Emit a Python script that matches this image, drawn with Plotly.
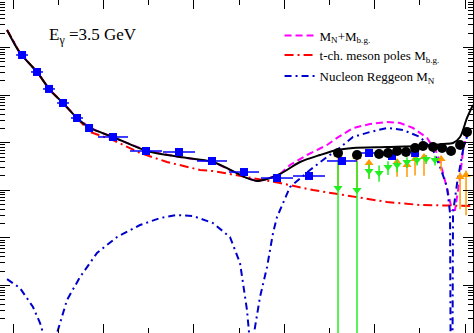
import plotly.graph_objects as go

# ---------------- data (x: kinematic variable, y: cross section, log) -------------
full_x = [-0.066, 0.077, 0.265, 0.409, 0.553, 0.708, 0.852, 1.106, 1.482, 1.847, 2.212,
          2.588, 2.699, 2.810, 2.954, 3.175, 3.396, 3.584, 3.761, 4.137, 4.502, 4.757,
          4.867, 4.945, 5.022, 5.088]
full_y = [234, 76.9, 30.7, 12.8, 6.84, 3.31, 2.04, 1.32, 0.670, 0.501, 0.393,
          0.181, 0.157, 0.173, 0.220, 0.393, 0.552, 0.703, 0.774, 0.812, 0.853, 0.939,
          0.986, 1.32, 3.31, 6.21]

sum_x = [-0.066, 0.077, 0.265, 0.409, 0.553, 0.708, 0.852, 1.106, 1.482, 1.847, 2.212,
         2.588, 2.699, 2.810, 2.954, 3.064, 3.252, 3.473, 3.584, 3.761, 3.949, 4.137,
         4.281, 4.425, 4.580, 4.690, 4.757, 4.812, 4.856, 4.889, 4.912, 4.945, 4.978, 5.022]
sum_y = [234, 76.9, 30.7, 12.8, 6.84, 3.31, 2.04, 1.32, 0.670, 0.501, 0.393,
         0.181, 0.157, 0.173, 0.220, 0.340, 0.552, 0.895, 1.26, 2.04, 2.47, 2.73,
         2.60, 2.04, 1.26, 0.608, 0.231, 0.0877, 0.0385, 0.0385, 0.0722, 0.190, 0.703, 1.60]

bg_x = [-0.066, 0.077, 0.265, 0.409, 0.553, 0.708, 0.852, 1.106, 1.405, 1.704, 2.069,
        2.212, 2.588, 2.954, 3.319, 3.584, 3.761, 4.137, 4.502, 4.867, 5.088]
bg_y = [234, 76.9, 30.7, 12.8, 6.84, 3.31, 1.68, 1.14, 0.608, 0.393, 0.267,
        0.254, 0.190, 0.142, 0.101, 0.0835, 0.0722, 0.0567, 0.0491, 0.0468, 0.0468]

regge_x = [-0.066, 0.077, 0.221, 0.299, 0.332, 0.409, 0.487, 0.597, 0.741, 0.929, 1.150,
           1.405, 1.626, 1.814, 1.991, 2.212, 2.400, 2.511, 2.588, 2.611, 2.633, 2.666,
           2.732, 2.810, 2.876, 2.920, 3.064, 3.285, 3.473, 3.584, 3.761, 3.949, 4.137,
           4.314, 4.502, 4.646, 4.724, 4.801, 4.834, 4.840, 4.851, 4.862, 4.867, 4.912,
           4.978, 5.033]
regge_y = [0.00136, 0.000883, 0.000352, 0.000162, 0.0001, 1e-9, 0.0001, 0.000494, 0.00150,
           0.00481, 0.0104, 0.0186, 0.0261, 0.0302, 0.0288, 0.0205, 0.0104, 0.00296,
           0.000304, 0.0001, 1e-9, 0.0001, 0.000571, 0.00244, 0.01265, 0.0274, 0.117,
           0.267, 0.501, 0.703, 1.32, 1.68, 2.04, 1.85, 1.32, 0.703, 0.309, 0.117, 0.0333,
           0.0001, 1e-9, 0.0001, 0.0333, 0.142, 0.703, 1.60]

# data set 1: blue squares
sq_x = [0.100, 0.265, 0.398, 0.553, 0.708, 0.841, 1.106, 1.471, 1.836, 2.201, 2.555,
        2.920, 3.274, 3.639, 3.938, 4.192, 4.447]
sq_y = [69.8, 30.7, 13.5, 6.84, 3.31, 2.04, 1.32, 0.670, 0.638, 0.413, 0.242,
        0.181, 0.200, 0.413, 0.608, 0.526, 0.608]
sq_xerr = [0.066, 0.066, 0.066, 0.066, 0.066, 0.044, 0.166, 0.177, 0.177, 0.166, 0.166,
           0.177, 0.177, 0.166, 0.12, 0.0, 0.0]

# data set 2: black circles
ci_x = [3.595, 3.805, 4.049, 4.148, 4.248, 4.347, 4.447, 4.535, 4.646, 4.746, 4.845,
        4.945, 5.022]
ci_y = [0.608, 0.552, 0.579, 0.608, 0.670, 0.638, 0.774, 0.853, 0.812, 0.774, 0.670,
        0.895, 1.68]

# data set 3: green down triangles
gr_x = [3.595, 3.805, 3.938, 4.049, 4.148, 4.248, 4.358, 4.469, 4.569, 4.668]
gr_y = [0.112, 0.101, 0.254, 0.231, 0.309, 0.340, 0.393, 0.433, 0.455, 0.433]
gr_up = [0.3, 0.3, 0.1, 0.1, 0.1, 0.1, 0.1, 0.1, 0.1, 0.1]
gr_dn = [0.112, 0.101, 0.08, 0.08, 0.1, 0.1, 0.1, 0.1, 0.1, 0.1]

# data set 4: orange up triangles
or_x = [3.595, 3.805, 3.938, 4.248, 4.358, 4.447, 4.546, 4.735, 4.945, 5.011]
or_y = [0.55, 0.50, 0.375, 0.393, 0.340, 0.455, 0.501, 0.455, 0.190, 0.210]
or_up = [0.05, 0.05, 0.05, 0.05, 0.05, 0.05, 0.05, 0.05, 0.05, 0.05]
or_dn = [0.43, 0.39, 0.2, 0.2, 0.15, 0.25, 0.3, 0.2, 0.15, 0.18]

legend_names = ["M<sub>N</sub>+M<sub>b.g.</sub>",
                "t-ch. meson poles M<sub>b.g.</sub>",
                "Nucleon Reggeon M<sub>N</sub>"]

# ---------------- figure ----------------
fig = go.Figure()

fig.add_trace(go.Scatter(x=sum_x, y=sum_y, mode="lines", name=legend_names[0],
                         legend="legend",
                         line=dict(color="#ff00ff", width=2, dash="7px,4px")))
fig.add_trace(go.Scatter(x=bg_x, y=bg_y, mode="lines", name=legend_names[1],
                         legend="legend2",
                         line=dict(color="#ff0000", width=2, dash="9px,4px,2px,4px")))
fig.add_trace(go.Scatter(x=regge_x, y=regge_y, mode="lines", name=legend_names[2],
                         legend="legend3",
                         line=dict(color="#0000cc", width=2, dash="7px,4px,2px,4px")))
fig.add_trace(go.Scatter(x=full_x, y=full_y, mode="lines", showlegend=False,
                         line=dict(color="black", width=2, shape="spline", smoothing=0.8)))

fig.add_trace(go.Scatter(x=or_x, y=or_y, mode="markers", showlegend=False,
                         marker=dict(symbol="triangle-up", size=8, color="#ff9900"),
                         error_y=dict(type="data", array=or_up, arrayminus=or_dn,
                                      color="#ff9900", thickness=1.5, width=0)))
fig.add_trace(go.Scatter(x=gr_x, y=gr_y, mode="markers", showlegend=False,
                         marker=dict(symbol="triangle-down", size=8, color="#22ee22"),
                         error_y=dict(type="data", array=gr_up, arrayminus=gr_dn,
                                      color="#22ee22", thickness=1.5, width=0)))
fig.add_trace(go.Scatter(x=sq_x, y=sq_y, mode="markers", showlegend=False,
                         marker=dict(symbol="square", size=8, color="#0000ff"),
                         error_x=dict(type="data", array=sq_xerr, color="#0000ff",
                                      thickness=1.5, width=0)))
fig.add_trace(go.Scatter(x=ci_x, y=ci_y, mode="markers", showlegend=False,
                         marker=dict(symbol="circle", size=10, color="black")))

fig.add_annotation(x=47 / 474, y=1 - 36 / 333, xref="paper", yref="paper",
                   xanchor="left", yanchor="middle", showarrow=False,
                   text="E<sub>γ</sub> =3.5 GeV",
                   font=dict(family="Liberation Serif", size=17, color="black"))

axis_common = dict(showgrid=False, zeroline=False, showline=True, linecolor="black",
                   linewidth=1, mirror="ticks", ticks="inside", tickcolor="black",
                   showticklabels=False)

fig.update_xaxes(range=[-0.144, 5.088], dtick=1, tick0=0, ticklen=9, tickwidth=1,
                 minor=dict(dtick=0.5, tick0=0, ticks="inside", ticklen=5,
                            tickcolor="black", tickwidth=1),
                 **axis_common)
fig.update_yaxes(type="log", range=[-4, 3], dtick=1, ticklen=10, tickwidth=1,
                 minor=dict(dtick="D1", ticks="inside", ticklen=5,
                            tickcolor="black", tickwidth=1),
                 **axis_common)

leg_font = dict(family="Liberation Serif", size=13, color="black")
leg_common = dict(x=0.591, xanchor="left", yanchor="top", bgcolor="rgba(0,0,0,0)",
                  font=leg_font, itemwidth=30)

fig.update_layout(width=474, height=333, margin=dict(l=0, r=1, t=0, b=0),
                  plot_bgcolor="white", paper_bgcolor="white",
                  legend=dict(y=0.938, **leg_common),
                  legend2=dict(y=0.880, **leg_common),
                  legend3=dict(y=0.817, **leg_common))

fig.write_html("out.html")
